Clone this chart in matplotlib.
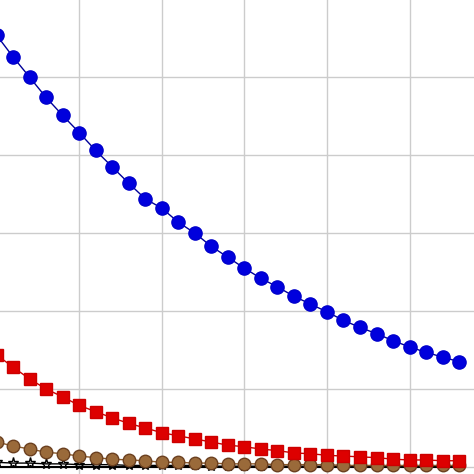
import matplotlib
matplotlib.use("Agg")
import matplotlib.pyplot as plt

x = list(range(29))
blue = [5.54, 5.26, 5.00, 4.74, 4.51, 4.29, 4.06, 3.85, 3.64, 3.44, 3.32, 3.14, 3.00, 2.83, 2.69,
        2.55, 2.42, 2.31, 2.19, 2.09, 1.99, 1.88, 1.79, 1.71, 1.62, 1.54, 1.47, 1.41, 1.35]
red = [1.44, 1.28, 1.13, 1.00, 0.90, 0.79, 0.71, 0.63, 0.56, 0.50, 0.44, 0.40, 0.36, 0.32, 0.28,
       0.26, 0.23, 0.21, 0.18, 0.17, 0.15, 0.14, 0.13, 0.12, 0.10, 0.09, 0.09, 0.08, 0.08]
brown = [0.32, 0.27, 0.23, 0.19, 0.17, 0.14, 0.12, 0.10, 0.09, 0.08, 0.06, 0.06, 0.05, 0.05, 0.04,
         0.04, 0.04, 0.03, 0.03, 0.03, 0.03, 0.02, 0.02, 0.02, 0.02, 0.02, 0.02, 0.02, 0.02]
star = [0.06, 0.05, 0.05, 0.04, 0.04, 0.03, 0.03, 0.03, 0.02, 0.02, 0.02, 0.02, 0.02, 0.01, 0.01,
        0.01, 0.01, 0.01, 0.01, 0.01, 0.01, 0.01, 0.01, 0.01, 0.01, 0.01, 0.01, 0.01, 0.01]
base = [0.0] * 29

fig = plt.figure(figsize=(4.74, 4.74), dpi=100)
ax = fig.add_axes([0, 0, 1, 1])
ax.plot(x, base, color="black", lw=1.5)
ax.plot(x, star, color="black", marker="*", ms=8, mfc="none", lw=1)
ax.plot(x, brown, color="#8b5a2b", marker="o", ms=9, mfc="#9a6a3a", mec="#6b4020", lw=1)
ax.plot(x, red, color="#cc0000", marker="s", ms=9, mfc="#dd0000", mec="#cc0000", lw=1)
ax.plot(x, blue, color="#000099", marker="o", ms=9.5, mfc="#0000dd", mec="#0000cc", lw=1)

ax.set_xlim(0.21, 28.9)
ax.set_ylim(-0.09, 5.99)
ax.set_xticks([5, 10, 15, 20, 25])
ax.set_yticks([0, 1, 2, 3, 4, 5])
ax.grid(True, color="#cccccc", lw=1)
ax.set_axisbelow(True)
ax.tick_params(length=0, labelbottom=False, labelleft=False)
for s in ax.spines.values():
    s.set_visible(False)

fig.savefig("out.png", dpi=100)
